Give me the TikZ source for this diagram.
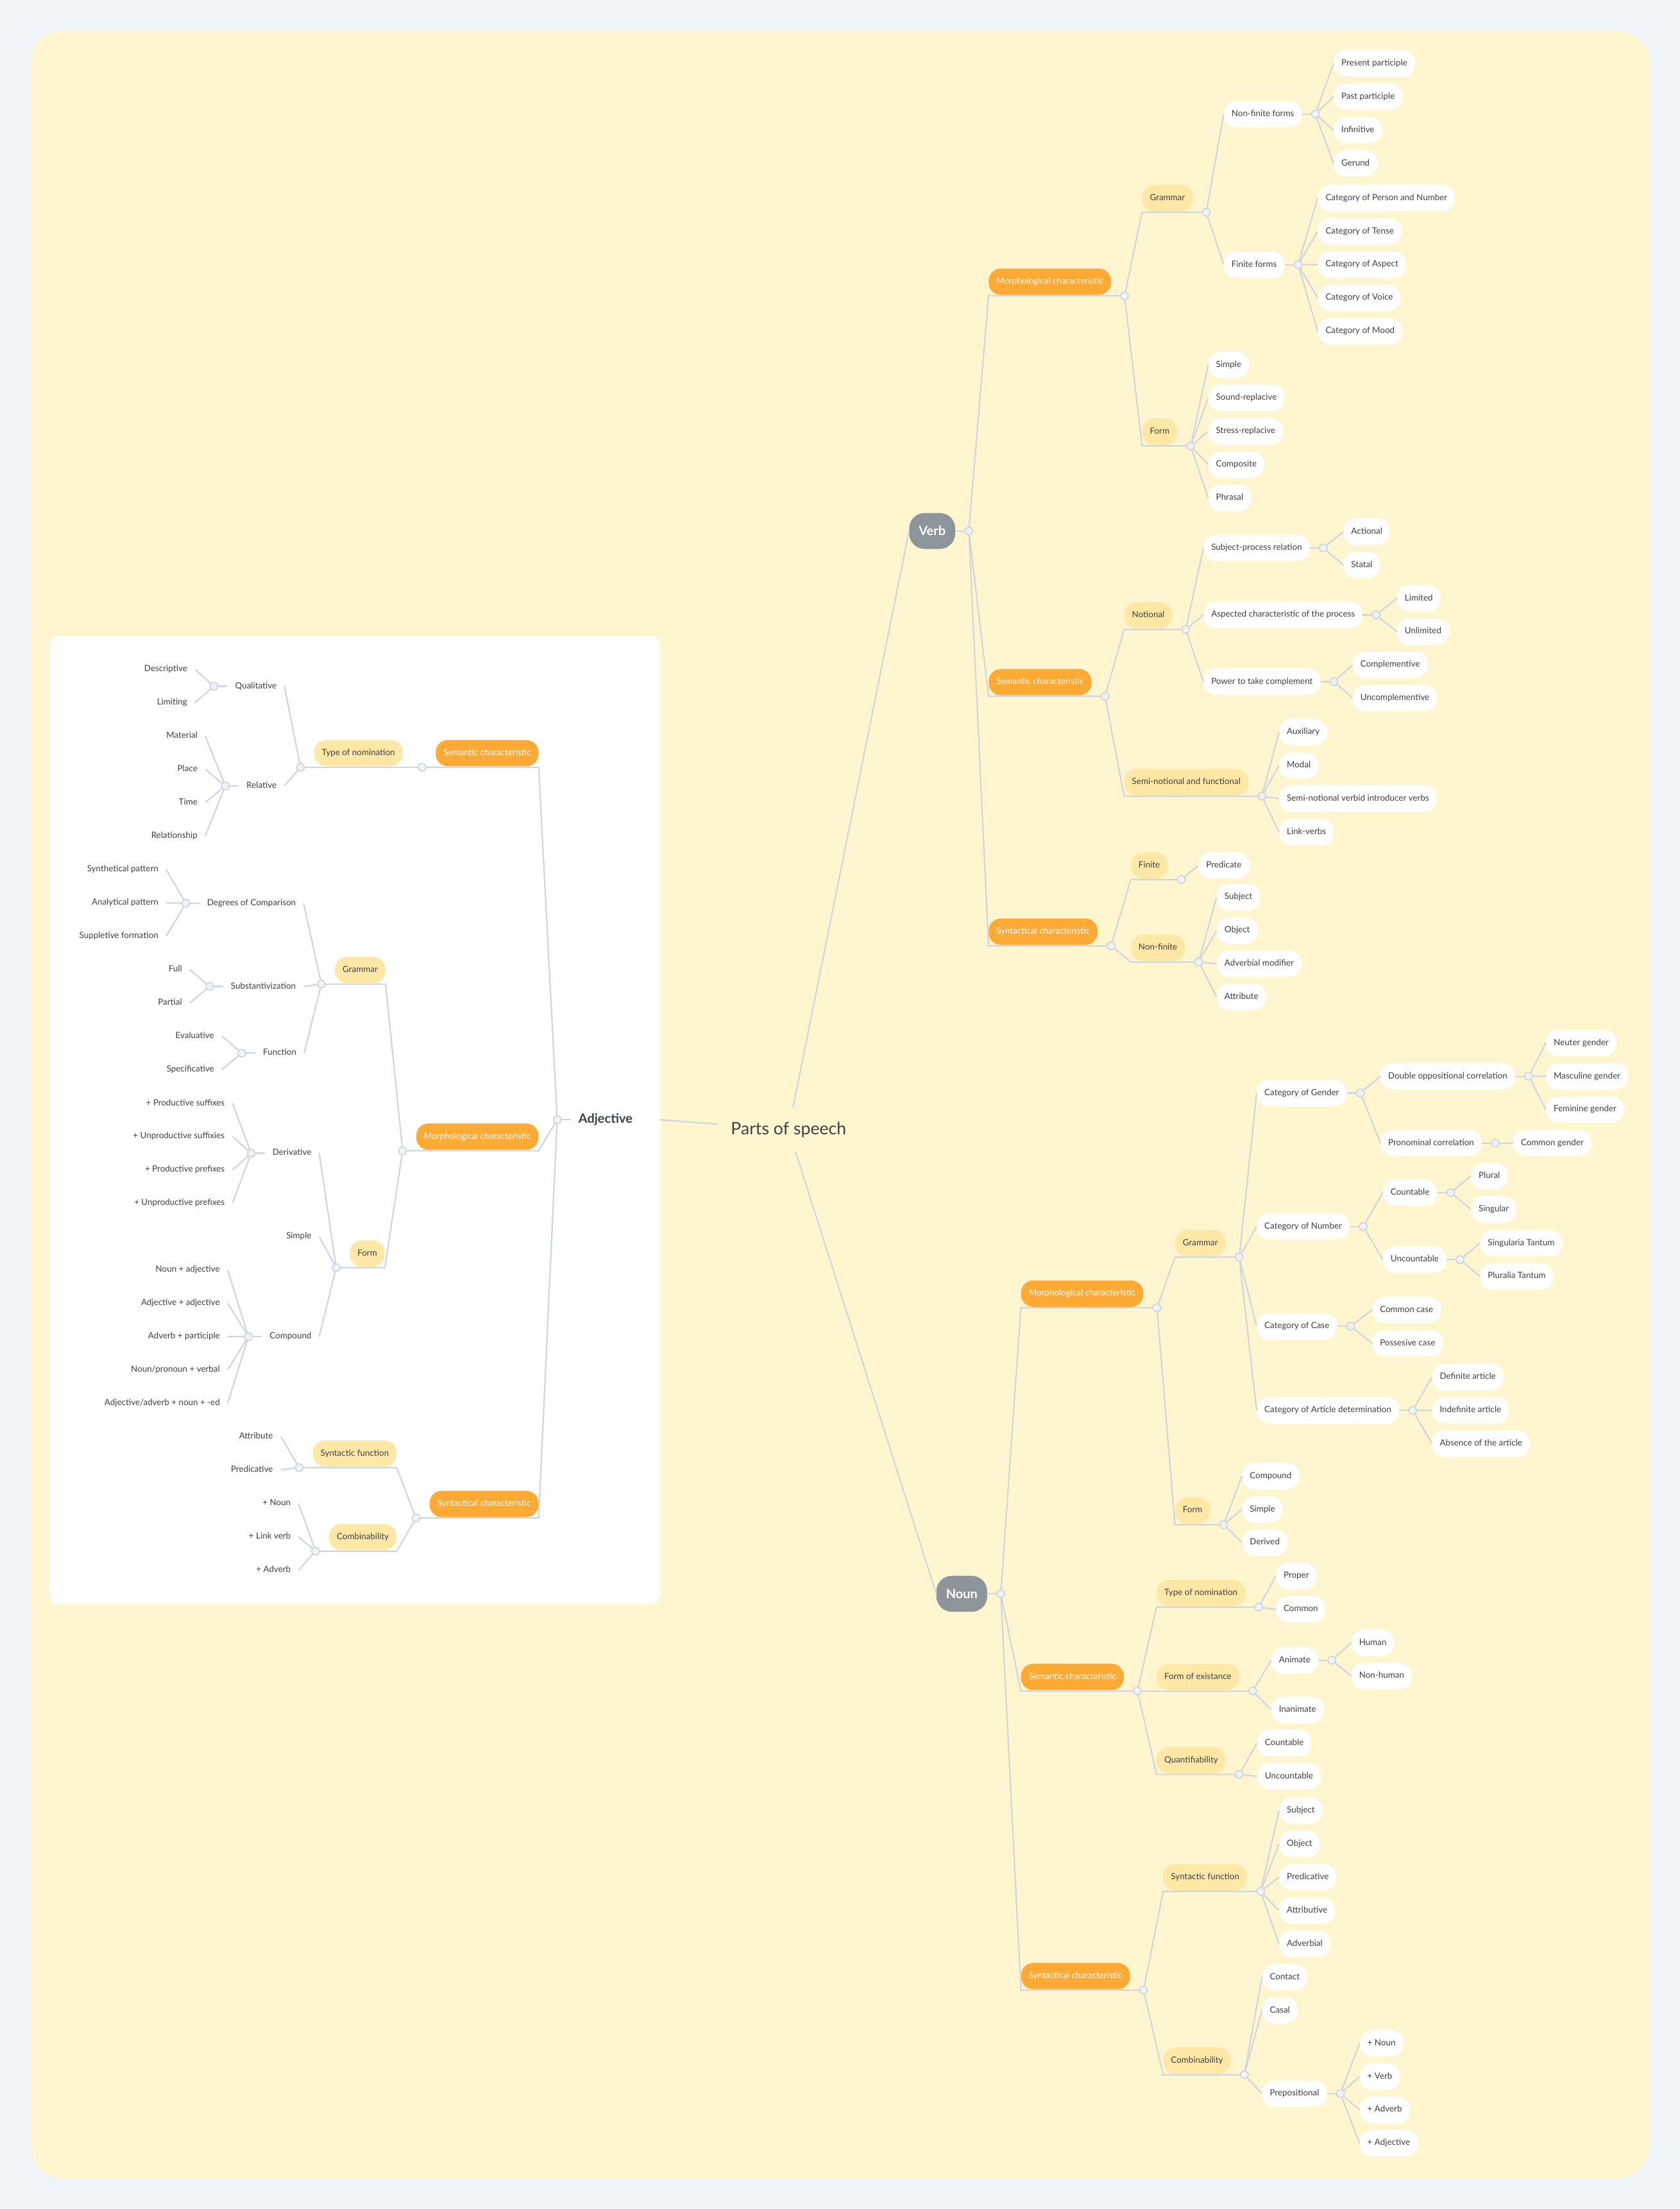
\documentclass[tikz,border=0pt]{standalone}
\usepackage{fontspec}
\setmainfont{Lato}
\usetikzlibrary{calc}
\definecolor{bgc}{HTML}{EEF4F7}
\definecolor{panel}{HTML}{FFF5CE}
\definecolor{catfill}{HTML}{FEAA35}
\definecolor{subfill}{HTML}{FFE8A6}
\definecolor{posfill}{HTML}{8D959A}
\definecolor{linec}{HTML}{CFD6DE}
\definecolor{jfill}{HTML}{EEF3F8}
\definecolor{ink}{HTML}{3C4146}

\begin{document}
\begin{tikzpicture}[x=2.1953pt,y=-2.1953pt,
  every node/.style={font=\fontsize{13.4}{16}\selectfont,text=ink},
  pill/.style={rounded corners=19pt,minimum height=41pt,inner xsep=12pt,inner ysep=0pt,
    text height=10pt,text depth=3pt,outer ysep=1.5pt},
  leafbox/.style={pill,fill=white},
  subbox/.style={pill,fill=subfill},
  catbox/.style={pill,fill=catfill,text=white},
  posbox/.style={rounded corners=24pt,minimum height=56pt,inner xsep=15pt,fill=posfill,
    text=white,font=\fontsize{20}{24}\selectfont\bfseries},
  jn/.style={circle,draw=linec,fill=jfill,line width=1.8pt,inner sep=0pt,minimum size=12pt},
  conn/.style={draw=linec,line width=2.2pt}]
\useasboundingbox (0,0) rectangle (1193,1568.4);
\fill[bgc] (0,0) rectangle (1193,1568.4);
\fill[panel,rounded corners=48pt] (21.9,21.9) rectangle (1171.1,1546.5);
\fill[white,rounded corners=16pt] (35.1,451.6) rectangle (469,1139);

% root
\node[font=\fontsize{26.7}{32}\selectfont,minimum width=220pt,minimum height=68pt] (root) at (560,802) {Parts of speech};

% ---------------- Verb ----------------
\node[posbox] (verb) at (662,377) {Verb};
\coordinate (verb-j) at ($(verb.east)+(21pt,0pt)$);
\draw[conn] (root) -- (verb.west);
\draw[conn] (verb.east) -- (verb-j);
\node[catbox,anchor=west] (vm) at (702,200) {Morphological characteristic};
\node[catbox,anchor=west] (vs) at (702,484.3) {Semantic characteristic};
\node[catbox,anchor=west] (vx) at (702,661.5) {Syntactical characteristic};
\foreach \n in {vm,vs,vx} {
  \coordinate (\n-j) at ($(\n.south east)+(21pt,0pt)$);
  \draw[conn] (verb-j) -- (\n.south west) -- (\n-j);
}
% morphological
\node[subbox,anchor=west] (vgr) at (811,140.7) {Grammar};
\node[subbox,anchor=west] (vfo) at (811,306.6) {Form};
\foreach \n in {vgr,vfo} {
  \coordinate (\n-j) at ($(\n.south east)+(21pt,0pt)$);
  \draw[conn] (vm-j) -- (\n.south west) -- (\n-j);
}
\node[leafbox,anchor=west] (vnf) at (869,81) {Non-finite forms};
\node[leafbox,anchor=west] (vff) at (869,188) {Finite forms};
\foreach \n in {vnf,vff} {
  \coordinate (\n-j) at ($(\n.east)+(21pt,0pt)$);
  \draw[conn] (vgr-j) -- (\n.west);
  \draw[conn] (\n.east) -- (\n-j);
}
\foreach \t [count=\i] in {Present participle,Past participle,Infinitive,Gerund} {
  \node[leafbox,anchor=west] (vnf\i) at (947,{45+23.65*(\i-1)}) {\t};
  \draw[conn] (vnf-j) -- (vnf\i.west);
}
\foreach \t [count=\i] in {Category of Person and Number,Category of Tense,Category of Aspect,Category of Voice,Category of Mood} {
  \node[leafbox,anchor=west] (vff\i) at (935.8,{140.6+23.65*(\i-1)}) {\t};
  \draw[conn] (vff-j) -- (vff\i.west);
}
\foreach \t [count=\i] in {Simple,Sound-replacive,Stress-replacive,Composite,Phrasal} {
  \node[leafbox,anchor=west] (vfo\i) at (858,{259+23.65*(\i-1)}) {\t};
  \draw[conn] (vfo-j) -- (vfo\i.west);
}
% semantic
\node[subbox,anchor=west] (vno) at (798.3,436.9) {Notional};
\node[subbox,anchor=west] (vsn) at (798.3,555.3) {Semi-notional and functional};
\foreach \n in {vno,vsn} {
  \coordinate (\n-j) at ($(\n.south east)+(21pt,0pt)$);
  \draw[conn] (vs-j) -- (\n.south west) -- (\n-j);
}
\node[leafbox,anchor=west] (vsp) at (854.6,389) {Subject-process relation};
\node[leafbox,anchor=west] (vac) at (854.6,436.6) {Aspected characteristic of the process};
\node[leafbox,anchor=west] (vpw) at (854.6,484) {Power to take complement};
\foreach \n in {vsp,vac,vpw} {
  \coordinate (\n-j) at ($(\n.east)+(21pt,0pt)$);
  \draw[conn] (vno-j) -- (\n.west);
  \draw[conn] (\n.east) -- (\n-j);
}
\foreach \t [count=\i] in {Actional,Statal} {
  \node[leafbox,anchor=west] (vsp\i) at (954,{377.5+23.65*(\i-1)}) {\t};
  \draw[conn] (vsp-j) -- (vsp\i.west);
}
\foreach \t [count=\i] in {Limited,Unlimited} {
  \node[leafbox,anchor=west] (vac\i) at (992,{424.8+23.65*(\i-1)}) {\t};
  \draw[conn] (vac-j) -- (vac\i.west);
}
\foreach \t [count=\i] in {Complementive,Uncomplementive} {
  \node[leafbox,anchor=west] (vpw\i) at (960.6,{472+23.65*(\i-1)}) {\t};
  \draw[conn] (vpw-j) -- (vpw\i.west);
}
\foreach \t [count=\i] in {Auxiliary,Modal,Semi-notional verbid introducer verbs,Link-verbs} {
  \node[leafbox,anchor=west] (vsn\i) at (908.3,{519.8+23.65*(\i-1)}) {\t};
  \draw[conn] (vsn-j) -- (vsn\i.west);
}
% syntactical
\node[subbox,anchor=west] (vfi) at (803,614.5) {Finite};
\node[subbox,anchor=west] (vnn) at (803,673) {Non-finite};
\foreach \n in {vfi,vnn} {
  \coordinate (\n-j) at ($(\n.south east)+(21pt,0pt)$);
  \draw[conn] (vx-j) -- (\n.south west) -- (\n-j);
}
\node[leafbox,anchor=west] (vfi1) at (851,614.5) {Predicate};
\draw[conn] (vfi-j) -- (vfi1.west);
\foreach \t [count=\i] in {Subject,Object,Adverbial modifier,Attribute} {
  \node[leafbox,anchor=west] (vnn\i) at (864,{637+23.65*(\i-1)}) {\t};
  \draw[conn] (vnn-j) -- (vnn\i.west);
}

% ---------------- Noun ----------------
\node[posbox] (noun) at (683,1131.6) {Noun};
\coordinate (noun-j) at ($(noun.east)+(21pt,0pt)$);
\draw[conn] (root) -- (noun.west);
\draw[conn] (noun.east) -- (noun-j);
\node[catbox,anchor=west] (nm) at (725,918.5) {Morphological characteristic};
\node[catbox,anchor=west] (ns) at (725,1190.6) {Semantic characteristic};
\node[catbox,anchor=west] (nx) at (725,1403) {Syntactical characteristic};
\foreach \n in {nm,ns,nx} {
  \coordinate (\n-j) at ($(\n.south east)+(21pt,0pt)$);
  \draw[conn] (noun-j) -- (\n.south west) -- (\n-j);
}
% morphological
\node[subbox,anchor=west] (ngr) at (834.4,882.6) {Grammar};
\node[subbox,anchor=west] (nfo) at (834.4,1072.5) {Form};
\foreach \n in {ngr,nfo} {
  \coordinate (\n-j) at ($(\n.south east)+(21pt,0pt)$);
  \draw[conn] (nm-j) -- (\n.south west) -- (\n-j);
}
\node[leafbox,anchor=west] (ngen) at (892.4,776) {Category of Gender};
\node[leafbox,anchor=west] (nnum) at (892.4,870.8) {Category of Number};
\node[leafbox,anchor=west] (ncas) at (892.4,941.7) {Category of Case};
\node[leafbox,anchor=west] (nart) at (892.4,1001.4) {Category of Article determination};
\foreach \n in {ngen,nnum,ncas,nart} {
  \coordinate (\n-j) at ($(\n.east)+(21pt,0pt)$);
  \draw[conn] (ngr-j) -- (\n.west);
  \draw[conn] (\n.east) -- (\n-j);
}
\node[leafbox,anchor=west] (ndbl) at (980.3,764.2) {Double oppositional correlation};
\node[leafbox,anchor=west] (npro) at (980.3,811.6) {Pronominal correlation};
\node[leafbox,anchor=west] (ncnt) at (982,846.8) {Countable};
\node[leafbox,anchor=west] (nunc) at (982,894.3) {Uncountable};
\foreach \n/\p in {ndbl/ngen,npro/ngen,ncnt/nnum,nunc/nnum} {
  \coordinate (\n-j) at ($(\n.east)+(21pt,0pt)$);
  \draw[conn] (\p-j) -- (\n.west);
  \draw[conn] (\n.east) -- (\n-j);
}
\foreach \t [count=\i] in {Neuter gender,Masculine gender,Feminine gender} {
  \node[leafbox,anchor=west] (ndbl\i) at (1097.8,{740.5+23.65*(\i-1)}) {\t};
  \draw[conn] (ndbl-j) -- (ndbl\i.west);
}
\node[leafbox,anchor=west] (npro1) at (1074.5,811.6) {Common gender};
\draw[conn] (npro-j) -- (npro1.west);
\foreach \t [count=\i] in {Plural,Singular} {
  \node[leafbox,anchor=west] (ncnt\i) at (1044.5,{835+23.65*(\i-1)}) {\t};
  \draw[conn] (ncnt-j) -- (ncnt\i.west);
}
\foreach \t [count=\i] in {Singularia Tantum,Pluralia Tantum} {
  \node[leafbox,anchor=west] (nunc\i) at (1051,{882.6+23.65*(\i-1)}) {\t};
  \draw[conn] (nunc-j) -- (nunc\i.west);
}
\foreach \t [count=\i] in {Common case,Possesive case} {
  \node[leafbox,anchor=west] (ncas\i) at (974.4,{930+23.65*(\i-1)}) {\t};
  \draw[conn] (ncas-j) -- (ncas\i.west);
}
\foreach \t [count=\i] in {Definite article,Indefinite article,Absence of the article} {
  \node[leafbox,anchor=west] (nart\i) at (1016.9,{977.7+23.65*(\i-1)}) {\t};
  \draw[conn] (nart-j) -- (nart\i.west);
}
\foreach \t [count=\i] in {Compound,Simple,Derived} {
  \node[leafbox,anchor=west] (nfo\i) at (882,{1048+23.65*(\i-1)}) {\t};
  \draw[conn] (nfo-j) -- (nfo\i.west);
}
% semantic
\node[subbox,anchor=west] (ntn) at (821.3,1131) {Type of nomination};
\node[subbox,anchor=west] (nfe) at (821.3,1190.6) {Form of existance};
\node[subbox,anchor=west] (nqu) at (821.3,1249.8) {Quantifiability};
\foreach \n in {ntn,nfe,nqu} {
  \coordinate (\n-j) at ($(\n.south east)+(21pt,0pt)$);
  \draw[conn] (ns-j) -- (\n.south west) -- (\n-j);
}
\foreach \t [count=\i] in {Proper,Common} {
  \node[leafbox,anchor=west] (ntn\i) at (906,{1119+23.65*(\i-1)}) {\t};
  \draw[conn] (ntn-j) -- (ntn\i.west);
}
\node[leafbox,anchor=west] (nani) at (902.7,1178.8) {Animate};
\node[leafbox,anchor=west] (nina) at (902.7,1214) {Inanimate};
\draw[conn] (nfe-j) -- (nani.west);
\draw[conn] (nfe-j) -- (nina.west);
\coordinate (nani-j) at ($(nani.east)+(21pt,0pt)$);
\draw[conn] (nani.east) -- (nani-j);
\foreach \t [count=\i] in {Human,Non-human} {
  \node[leafbox,anchor=west] (nani\i) at (959.6,{1166.4+23.65*(\i-1)}) {\t};
  \draw[conn] (nani-j) -- (nani\i.west);
}
\foreach \t [count=\i] in {Countable,Uncountable} {
  \node[leafbox,anchor=west] (nqu\i) at (892.7,{1237.5+23.65*(\i-1)}) {\t};
  \draw[conn] (nqu-j) -- (nqu\i.west);
}
% syntactical
\node[subbox,anchor=west] (nsf) at (826,1332.9) {Syntactic function};
\node[subbox,anchor=west] (ncb) at (826,1463) {Combinability};
\foreach \n in {nsf,ncb} {
  \coordinate (\n-j) at ($(\n.south east)+(21pt,0pt)$);
  \draw[conn] (nx-j) -- (\n.south west) -- (\n-j);
}
\foreach \t [count=\i] in {Subject,Object,Predicative,Attributive,Adverbial} {
  \node[leafbox,anchor=west] (nsf\i) at (908.3,{1285.5+23.65*(\i-1)}) {\t};
  \draw[conn] (nsf-j) -- (nsf\i.west);
}
\node[leafbox,anchor=west] (ncon) at (896.2,1403.8) {Contact};
\node[leafbox,anchor=west] (ncsl) at (896.2,1427.4) {Casal};
\node[leafbox,anchor=west] (nprp) at (896.2,1486.5) {Prepositional};
\foreach \n in {ncon,ncsl,nprp} \draw[conn] (ncb-j) -- (\n.west);
\coordinate (nprp-j) at ($(nprp.east)+(21pt,0pt)$);
\draw[conn] (nprp.east) -- (nprp-j);
\foreach \t [count=\i] in {+ Noun,+ Verb,+ Adverb,+ Adjective} {
  \node[leafbox,anchor=west] (nprp\i) at (965.5,{1450.7+23.65*(\i-1)}) {\t};
  \draw[conn] (nprp-j) -- (nprp\i.west);
}

% ---------------- Adjective ----------------
\node[font=\fontsize{20}{24}\selectfont\bfseries,inner xsep=12pt] (adj) at (430,795) {Adjective};
\coordinate (adj-j) at ($(adj.west)+(-21pt,0pt)$);
\draw[conn] (root) -- ([xshift=30pt]adj.east);
\draw[conn] (adj.west) -- (adj-j);
\node[catbox,anchor=east] (asm) at (382.5,534.7) {Semantic characteristic};
\node[catbox,anchor=east] (amo) at (382.5,807) {Morphological characteristic};
\node[catbox,anchor=east] (asy) at (382.5,1067.8) {Syntactical characteristic};
\foreach \n in {asm,amo,asy} {
  \coordinate (\n-j) at ($(\n.south west)+(-21pt,0pt)$);
  \draw[conn] (adj-j) -- (\n.south east) -- (\n-j);
}
\node[subbox,anchor=east] (atn) at (286,534.7) {Type of nomination};
\node[subbox,anchor=east] (agr) at (273.8,688.7) {Grammar};
\node[subbox,anchor=east] (afo) at (273.3,890) {Form};
\node[subbox,anchor=east] (asf) at (281.7,1032) {Syntactic function};
\node[subbox,anchor=east] (acb) at (281.7,1091.3) {Combinability};
\foreach \n/\p in {atn/asm,agr/amo,afo/amo,asf/asy,acb/asy} {
  \coordinate (\n-j) at ($(\n.south west)+(-21pt,0pt)$);
  \draw[conn] (\p-j) -- (\n.south east) -- (\n-j);
}
\node[leafbox,anchor=east] (aql) at (202,487.2) {Qualitative};
\node[leafbox,anchor=east] (arl) at (202,558) {Relative};
\node[leafbox,anchor=east] (adg) at (215.6,641.3) {Degrees of Comparison};
\node[leafbox,anchor=east] (asb) at (215.6,700.4) {Substantivization};
\node[leafbox,anchor=east] (afn) at (216,747.7) {Function};
\node[leafbox,anchor=east] (adr) at (226.7,818.8) {Derivative};
\node[leafbox,anchor=east] (asi) at (226.7,878) {Simple};
\node[leafbox,anchor=east] (acp) at (226.7,949) {Compound};
\foreach \n/\p in {aql/atn,arl/atn,adg/agr,asb/agr,afn/agr,adr/afo,asi/afo,acp/afo}
  \draw[conn] (\p-j) -- (\n.east);
\foreach \n in {aql,arl,adg,asb,afn,adr,acp} {
  \coordinate (\n-j) at ($(\n.west)+(-21pt,0pt)$);
  \draw[conn] (\n.west) -- (\n-j);
}
\foreach \t [count=\i] in {Descriptive,Limiting} {
  \node[leafbox,anchor=east] (aql\i) at (138.5,{475.3+23.65*(\i-1)}) {\t};
  \draw[conn] (aql-j) -- (aql\i.east);
}
\foreach \t [count=\i] in {Material,Place,Time,Relationship} {
  \node[leafbox,anchor=east] (arl\i) at (145.8,{522.5+23.65*(\i-1)}) {\t};
  \draw[conn] (arl-j) -- (arl\i.east);
}
\foreach \t [count=\i] in {Synthetical pattern,Analytical pattern,Suppletive formation} {
  \node[leafbox,anchor=east] (adg\i) at (118,{617.4+23.65*(\i-1)}) {\t};
  \draw[conn] (adg-j) -- (adg\i.east);
}
\foreach \t [count=\i] in {Full,Partial} {
  \node[leafbox,anchor=east] (asb\i) at (134.8,{688.4+23.65*(\i-1)}) {\t};
  \draw[conn] (asb-j) -- (asb\i.east);
}
\foreach \t [count=\i] in {Evaluative,Specificative} {
  \node[leafbox,anchor=east] (afn\i) at (157.6,{735.7+23.65*(\i-1)}) {\t};
  \draw[conn] (afn-j) -- (afn\i.east);
}
\foreach \t [count=\i] in {+ Productive suffixes,+ Unproductive suffixies,+ Productive prefixes,+ Unproductive prefixes} {
  \node[leafbox,anchor=east] (adr\i) at (165.1,{783.3+23.65*(\i-1)}) {\t};
  \draw[conn] (adr-j) -- (adr\i.east);
}
\foreach \t [count=\i] in {Noun + adjective,Adjective + adjective,Adverb + participle,Noun/pronoun + verbal,Adjective/adverb + noun + -ed} {
  \node[leafbox,anchor=east] (acp\i) at (161.7,{901.7+23.65*(\i-1)}) {\t};
  \draw[conn] (acp-j) -- (acp\i.east);
}
\foreach \t [count=\i] in {Attribute,Predicative} {
  \node[leafbox,anchor=east] (asf\i) at (199.4,{1019.9+23.65*(\i-1)}) {\t};
  \draw[conn] (asf-j) -- (asf\i.east);
}
\foreach \t [count=\i] in {+ Noun,+ Link verb,+ Adverb} {
  \node[leafbox,anchor=east] (acb\i) at (212,{1067.5+23.65*(\i-1)}) {\t};
  \draw[conn] (acb-j) -- (acb\i.east);
}

% junction dots on top
\foreach \j in {verb,vm,vs,vx,vgr,vfo,vnf,vff,vno,vsn,vsp,vac,vpw,vfi,vnn,
  noun,nm,ns,nx,ngr,nfo,ngen,nnum,ncas,nart,ndbl,npro,ncnt,nunc,ntn,nfe,nqu,nani,nsf,ncb,nprp,
  adj,asm,amo,asy,atn,agr,afo,asf,acb,aql,arl,adg,asb,afn,adr,acp}
  \node[jn] at (\j-j) {};
\end{tikzpicture}
\end{document}
